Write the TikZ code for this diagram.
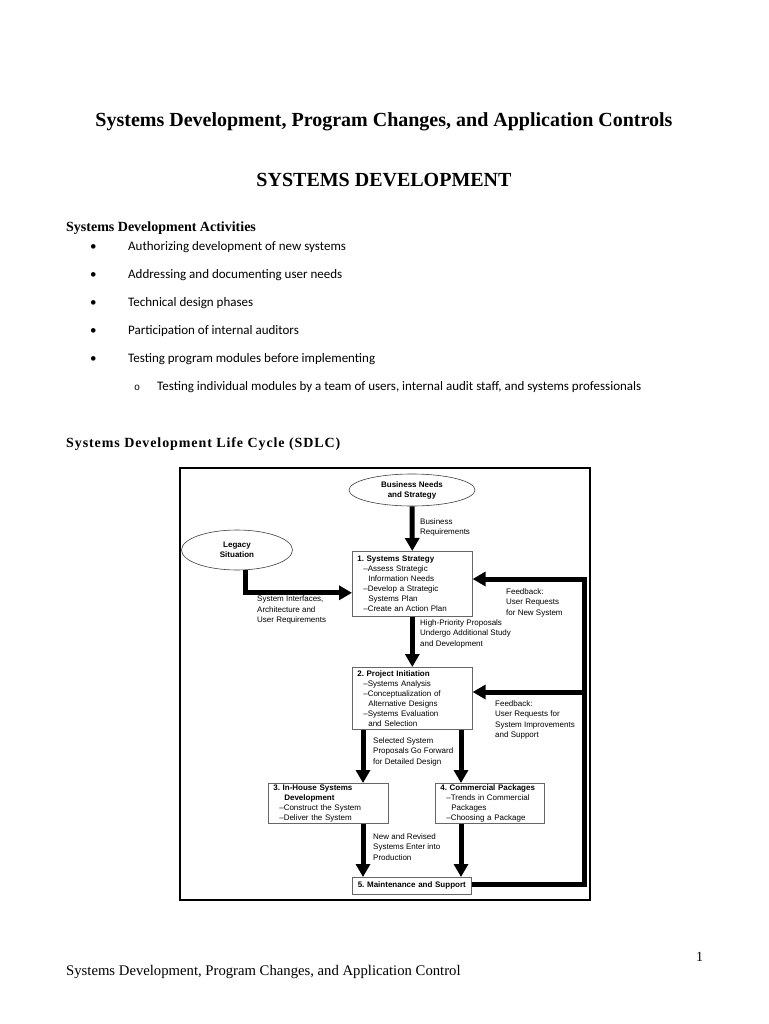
\documentclass[tikz,border=0pt]{standalone}
\usepackage{fontspec}
\setmainfont{Liberation Serif}
\newfontfamily\bodyfont{Carlito}
\newfontfamily\chartfont{Liberation Sans}
\newfontfamily\circfont{Liberation Mono}
\newfontfamily\wideserif[LetterSpace=6.5]{Liberation Serif}
\usepackage{tikz}
\usetikzlibrary{positioning,%
  arrows.meta,%
  shapes.geometric,%
  calc%
}
\frenchspacing

\begin{document}
\begin{tikzpicture}[x=1pt,y=-1pt,
            pagetext/.style={anchor=base west,inner sep=0pt},
            item/.style={anchor=base west,inner sep=0pt,font=\bodyfont\fontsize{13}{15}\selectfont},
            oval/.style={ellipse,draw=black!75,line width=.6pt,align=center,inner sep=0pt,font=\chartfont\bfseries\fontsize{8}{10}\selectfont},
            phase/.style={draw=black!60,line width=.6pt,anchor=north west,align=left,inner xsep=5pt,inner ysep=0pt,font=\chartfont\fontsize{8}{10}\selectfont},
            note/.style={anchor=north west,align=left,inner sep=0pt,font=\chartfont\fontsize{8}{10.5}\selectfont},
            fatarrow/.style={line width=5pt,-{Triangle[width=14pt,length=13pt]}}]
            \fill[white] (0,0) rectangle (768,1024);
            \useasboundingbox (0,0) rectangle (768,1024);

            \node[pagetext,anchor=base,font=\bfseries\fontsize{20}{24}\selectfont] (title) at (384,127) {Systems Development, Program Changes, and Application Controls};
            \node[pagetext,anchor=base,font=\bfseries\fontsize{20}{24}\selectfont] (sect) at (384,187) {SYSTEMS DEVELOPMENT};
            \node[pagetext,font=\bfseries\fontsize{14}{16}\selectfont] (acts) at (66,232) {Systems Development Activities};
            \foreach \t [count=\i] in {Authorizing development of new systems,Addressing and documenting user needs,Technical design phases,Participation of internal auditors,Testing program modules before implementing}{
              \node[item] (dot\i) at (90,222+28*\i) {\textbullet};
              \node[item] (act\i) at (128,222+28*\i) {\t};
            }
            \node[item,font=\circfont\fontsize{10}{12}\selectfont] (subdot) at (134,390) {o};
            \node[item] (subact) at (157,390) {Testing individual modules by a team of users, internal audit staff, and systems professionals};
            \node[pagetext,font=\wideserif\bfseries\fontsize{14}{16}\selectfont] (sdlc) at (66,447) {Systems Development Life Cycle (SDLC)};

            \draw[line width=1.5pt] (180,468) rectangle (590,900);

            \node[oval,minimum width=126pt,minimum height=32pt] (need) at (412,490) {Business Needs\\and Strategy};
            \node[oval,minimum width=111pt,minimum height=40pt] (legacy) at (237,550) {Legacy\\Situation};

            \node[phase,minimum height=65pt,text width=110pt] (s1) at (352,551) {\textbf{1. Systems Strategy}\\
              \hspace*{6pt}–Assess Strategic\\\hspace*{11pt}Information Needs\\
              \hspace*{6pt}–Develop a Strategic\\\hspace*{11pt}Systems Plan\\
              \hspace*{6pt}–Create an Action Plan};
            \node[phase,minimum height=62pt,text width=110pt] (s2) at (352,667) {\textbf{2. Project Initiation}\\
              \hspace*{6pt}–Systems Analysis\\
              \hspace*{6pt}–Conceptualization of\\\hspace*{11pt}Alternative Designs\\
              \hspace*{6pt}–Systems Evaluation\\\hspace*{11pt}and Selection};
            \node[phase,minimum height=40pt,text width=110pt] (s3) at (268,783) {\textbf{3. In-House Systems}\\
              \hspace*{11pt}\textbf{Development}\\
              \hspace*{6pt}–Construct the System\\
              \hspace*{6pt}–Deliver the System};
            \node[phase,minimum height=40pt,text width=99pt] (s4) at (435,783) {\textbf{4. Commercial Packages}\\
              \hspace*{6pt}–Trends in Commercial\\\hspace*{11pt}Packages\\
              \hspace*{6pt}–Choosing a Package};
            \node[phase,minimum height=17pt,inner xsep=2pt,text width=115pt,align=center] (s5) at (352,877) {\textbf{5. Maintenance and Support}};

            \coordinate (lcol) at (363,0);
            \coordinate (rcol) at (461,0);
            \coordinate (fbtop) at (584,579);
            \coordinate (fbmid) at (584,692);

            \draw[fatarrow] (need.south) -- (s1.north);
            \draw[fatarrow] ([xshift=8pt]legacy.south) |- ([yshift=-9pt]s1.west);
            \draw[fatarrow] (s1.south) -- (s2.north);
            \draw[fatarrow] (s2.south -| lcol) -- (s3.north -| lcol);
            \draw[fatarrow] (s2.south -| rcol) -- (s4.north -| rcol);
            \draw[fatarrow] (s3.south -| lcol) -- (s5.north -| lcol);
            \draw[fatarrow] (s4.south -| rcol) -- (s5.north -| rcol);
            \draw[fatarrow] ([yshift=1pt]s5.east) -| (fbtop) -- (s1.east |- fbtop);
            \draw[fatarrow] (fbmid) -- (s2.east |- fbmid);

            \node[note] (busreq) at (420,518) {Business\\Requirements};
            \node[note] (iface) at (257,596) {System Interfaces,\\Architecture and\\User Requirements};
            \node[note] (fbnew) at (506,588) {Feedback:\\User Requests\\for New System};
            \node[note] (prio) at (420,619) {High-Priority Proposals\\Undergo Additional Study\\and Development};
            \node[note] (fbimp) at (495,700) {Feedback:\\User Requests for\\System Improvements\\and Support};
            \node[note] (select) at (373,737) {Selected System\\Proposals Go Forward\\for Detailed Design};
            \node[note] (newsys) at (373,833) {New and Revised\\Systems Enter into\\Production};

            \node[pagetext,font=\fontsize{14}{16}\selectfont] (pageno) at (696,961) {1};
            \node[pagetext,font=\fontsize{14.7}{17}\selectfont] (foot) at (66,975) {Systems Development, Program Changes, and Application Control};
        \end{tikzpicture}
\end{document}
